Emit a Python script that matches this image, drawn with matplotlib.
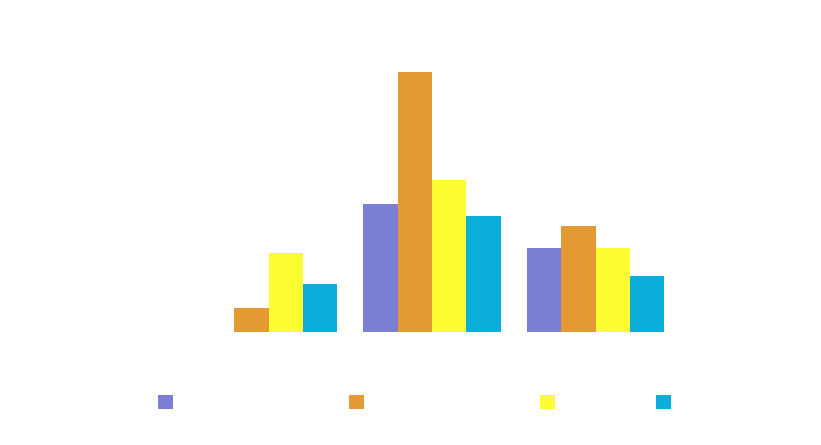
import matplotlib
matplotlib.use("Agg")
import matplotlib.pyplot as plt
import numpy as np

# data (arbitrary units)
categories = ["Group 1", "Group 2", "Group 3"]
series_names = ["Series one total:", "Series two total:", "Series I", "Series 4"]
series_1 = [0, 128, 84]
series_2 = [24, 260, 106]
series_3 = [79, 152, 84]
series_4 = [48, 116, 56]
colors = ["#7b7fd3", "#e39a33", "#fdfd33", "#0aaedb"]

W, H = 821, 445
fig = plt.figure(figsize=(W / 100, H / 100), dpi=100)
ax = fig.add_axes([186.75 / W, 113 / H, 490.5 / W, 300 / H])

x = np.arange(len(categories))
width = 0.21
all_series = [series_1, series_2, series_3, series_4]
for i, (vals, name, col) in enumerate(zip(all_series, series_names, colors)):
    ax.bar(x + (i - 1.5) * width, vals, width, color=col, label=name, linewidth=0)

ax.set_xlim(-0.5, 2.5)
ax.set_ylim(0, 300)
ax.axis("off")

# legend texts are white in the reference, only the swatches show
leg = fig.legend(loc="center left", bbox_to_anchor=(143 / W, 42.5 / H),
                 ncol=4, frameon=False, fontsize=12,
                 handlelength=0.9, handleheight=0.9, handletextpad=0.8,
                 columnspacing=1.6)
for t in leg.get_texts():
    t.set_color("white")

fig.savefig("out.png", dpi=100)
